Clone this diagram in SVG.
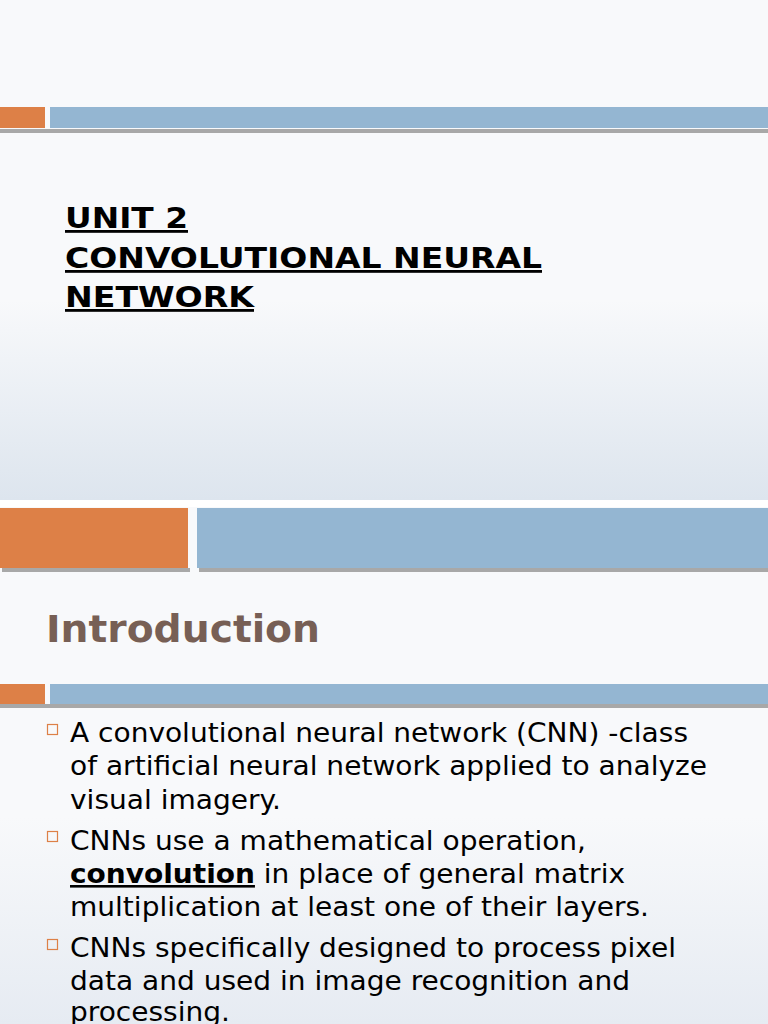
<svg xmlns="http://www.w3.org/2000/svg" width="768" height="1024" viewBox="0 0 768 1024">
<defs>
<linearGradient id="g1" x1="0" y1="0" x2="0" y2="1"><stop offset="0.6" stop-color="#f8f9fb"/><stop offset="1" stop-color="#dde5ee"/></linearGradient>
<linearGradient id="g2" x1="0" y1="0" x2="0" y2="1"><stop offset="0.6" stop-color="#f8f9fb"/><stop offset="1" stop-color="#e6ebf2"/></linearGradient>
<style>
.o{fill:#dd8047}.b{fill:#94b6d2}.s{fill:#a8a8a8}
.t{font-family:"DejaVu Sans",sans-serif;font-weight:bold;font-size:28px;fill:#000;text-decoration:underline}
.p{font-family:"DejaVu Sans",sans-serif;font-size:26px;fill:#000}
.q{fill:none;stroke:#dd8047;stroke-width:1.2}
</style>
</defs>
<rect width="768" height="500" fill="url(#g1)"/>
<rect y="500" width="768" height="7" fill="#fff"/>
<rect y="507" width="768" height="517" fill="url(#g2)"/>
<g id="top-bar">
<rect class="s" x="0" y="129" width="768" height="4"/>
<rect class="o" x="0" y="107" width="45" height="21"/>
<rect class="b" x="50" y="107" width="718" height="21"/>
</g>
<g id="title">
<text class="t" x="65" y="228" textLength="123" lengthAdjust="spacingAndGlyphs">UNIT 2</text>
<text class="t" x="65" y="268" textLength="477" lengthAdjust="spacingAndGlyphs">CONVOLUTIONAL NEURAL</text>
<text class="t" x="65" y="307" textLength="189" lengthAdjust="spacingAndGlyphs">NETWORK</text>
</g>
<g id="mid-bar">
<rect class="s" x="2" y="568" width="188" height="4"/>
<rect class="s" x="199" y="568" width="569" height="4"/>
<rect class="o" x="0" y="508" width="188" height="60"/>
<rect class="b" x="197" y="508" width="571" height="60"/>
</g>
<text x="46" y="642" font-family="DejaVu Sans,sans-serif" font-weight="bold" font-size="37" fill="#775f55" textLength="274" lengthAdjust="spacingAndGlyphs">Introduction</text>
<g id="bar3">
<rect class="s" x="0" y="704" width="768" height="4"/>
<rect class="o" x="0" y="684" width="45" height="20"/>
<rect class="b" x="50" y="684" width="718" height="20"/>
</g>
<g id="bullets">
<rect class="q" x="47.5" y="724.5" width="10" height="10"/>
<text class="p" x="70" y="742" textLength="618" lengthAdjust="spacingAndGlyphs">A convolutional neural network (CNN) -class</text>
<text class="p" x="70" y="775" textLength="637" lengthAdjust="spacingAndGlyphs">of artificial neural network applied to analyze</text>
<text class="p" x="70" y="809" textLength="211" lengthAdjust="spacingAndGlyphs">visual imagery.</text>
<rect class="q" x="47.5" y="831.5" width="10" height="10"/>
<text class="p" x="70" y="850" textLength="516" lengthAdjust="spacingAndGlyphs">CNNs use a mathematical operation,</text>
<text class="p" x="70" y="883" textLength="555" lengthAdjust="spacingAndGlyphs"><tspan font-weight="bold" text-decoration="underline">convolution</tspan> in place of general matrix</text>
<text class="p" x="70" y="916" textLength="579" lengthAdjust="spacingAndGlyphs">multiplication at least one of their layers.</text>
<rect class="q" x="47.5" y="939.5" width="10" height="10"/>
<text class="p" x="70" y="957" textLength="606" lengthAdjust="spacingAndGlyphs">CNNs specifically designed to process pixel</text>
<text class="p" x="70" y="990" textLength="560" lengthAdjust="spacingAndGlyphs">data and used in image recognition and</text>
<text class="p" x="70" y="1021" textLength="160" lengthAdjust="spacingAndGlyphs">processing.</text>
</g>
</svg>
